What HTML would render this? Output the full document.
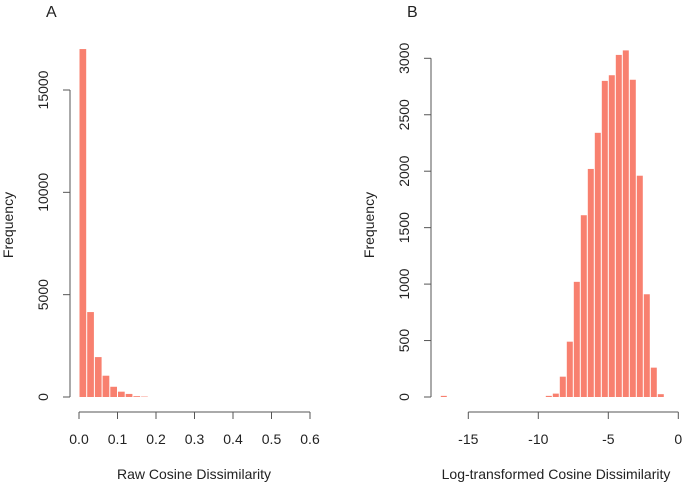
<!DOCTYPE html>
<html><head><meta charset="utf-8"><style>
html,body{margin:0;padding:0;background:#fff;}
svg{display:block;font-family:"Liberation Sans",Arial,sans-serif;}
</style></head><body>
<svg id="chart" width="685" height="487" viewBox="0 0 685 487"></svg>
<script>
// Panel A data (bin starts, counts)
const aBinStarts = [0,0.02,0.04,0.06,0.08,0.10,0.12,0.14,0.16];
const aCounts = [17000,4150,1950,1040,500,260,150,40,20];
const aBinWidth = 0.02;
const aXTicks = [0,0.1,0.2,0.3,0.4,0.5,0.6];
const aXTickLabels = ["0.0","0.1","0.2","0.3","0.4","0.5","0.6"];
const aYTicks = [0,5000,10000,15000];
// Panel B data
const bBinStarts = [-17,-9.5,-9,-8.5,-8,-7.5,-7,-6.5,-6,-5.5,-5,-4.5,-4,-3.5,-3,-2.5,-2,-1.5];
const bCounts = [10,10,30,180,490,1020,1610,2020,2340,2800,2850,3030,3070,2810,1960,910,260,25];
const bBinWidth = 0.5;
const bXTicks = [-15,-10,-5,0];
const bXTickLabels = ["-15","-10","-5","0"];
const bYTicks = [0,500,1000,1500,2000,2500,3000];

const NS="http://www.w3.org/2000/svg";
const svg=document.getElementById('chart');
function mk(tag,attrs,parent){const e=document.createElementNS(NS,tag);for(const k in attrs)e.setAttribute(k,attrs[k]);(parent||svg).appendChild(e);return e;}

function panel(o){
  const g=mk('g',{});
  
  
  const xs=v=>o.x0+(v-o.xmin)*o.xscale;
  const ys=v=>o.y0-v*o.yscale;
  o.bins.forEach((b,i)=>{
    const r=mk('rect',{x:xs(b)+0.5,y:ys(o.counts[i]),width:o.bw*o.xscale-1,height:o.y0-ys(o.counts[i]),fill:'#f8806f'},g);
    
    
  });
  const xa=mk('g',{},g);
  
  
  const xl=xs(o.xticks[0]), xr=xs(o.xticks[o.xticks.length-1]);
  mk('line',{x1:xl,x2:xr,y1:412,y2:412,stroke:'#555','stroke-width':1},xa);
  o.xticks.forEach((t,i)=>{
    mk('line',{x1:xs(t),x2:xs(t),y1:412,y2:419,stroke:'#555'},xa);
    const tx=mk('text',{x:xs(t),y:444,'font-size':14,'text-anchor':'middle',fill:'#222'},xa);
    tx.textContent=o.xlabels[i];
    
    
  });
  const ya=mk('g',{},g);
  
  
  const yt=o.yticks;
  mk('line',{x1:o.yax,x2:o.yax,y1:ys(yt[0]),y2:ys(yt[yt.length-1]),stroke:'#555'},ya);
  yt.forEach(t=>{
    mk('line',{x1:o.yax,x2:o.yax-7,y1:ys(t),y2:ys(t),stroke:'#555'},ya);
    const lx=o.yax-27;
    const tx=mk('text',{x:lx,y:ys(t)+5,'font-size':14,'text-anchor':'middle',fill:'#222',transform:`rotate(-90 ${lx} ${ys(t)})`},ya);
    tx.textContent=String(t);
    
    
  });
  const yt2=mk('text',{x:o.ytx,y:225,'font-size':14,'text-anchor':'middle',fill:'#222',transform:`rotate(-90 ${o.ytx} 225)`},g);
  yt2.textContent='Frequency';
  
  
  const xt=mk('text',{x:o.xtx,y:479,'font-size':14,'text-anchor':'middle',fill:'#222'},g);
  xt.textContent=o.xtitle;
  
  
  const pl=mk('text',{x:o.lx,y:17,'font-size':16,fill:'#222'},g);
  pl.textContent=o.letter;
  
  
}
panel({name:'panel-a',bins:aBinStarts,counts:aCounts,bw:aBinWidth,xmin:0,x0:79,xscale:385,y0:397,yscale:307/15000,
  xticks:aXTicks,xlabels:aXTickLabels,yticks:aYTicks,yax:70,ytx:13,xtx:194,xtitle:'Raw Cosine Dissimilarity',lx:46,letter:'A'});
panel({name:'panel-b',bins:bBinStarts,counts:bCounts,bw:bBinWidth,xmin:-15,x0:468.3,xscale:14,y0:397,yscale:338.7/3000,
  xticks:bXTicks,xlabels:bXTickLabels,yticks:bYTicks,yax:431,ytx:374,xtx:556,xtitle:'Log-transformed Cosine Dissimilarity',lx:407,letter:'B'});
</script>
</body></html>
